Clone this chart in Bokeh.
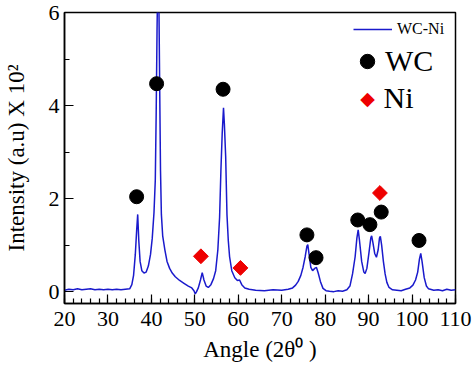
import numpy as np
from bokeh.plotting import figure
from bokeh.models import FixedTicker, Legend, LegendItem, Range1d, Label
from bokeh.embed import file_html
from bokeh.resources import INLINE

# XRD trace (angle in 2theta, intensity x 10^2)
angle = [20, 21, 22, 23, 24, 25, 26, 27, 28, 29, 30, 31, 32, 33, 34, 35.0, 35.5, 35.9, 36.3, 36.6, 36.85,
         37.1, 37.4, 37.8, 38.3, 38.8, 39.3, 39.8, 40.2, 40.6, 40.9, 41.1, 41.3, 41.5, 41.7, 41.9,
         42.1, 42.3, 42.6, 43.1, 43.6, 44.2, 44.8, 45.5, 46.5, 47.5, 48.5, 49.3, 49.8, 50.1, 50.4,
         50.8, 51.3, 51.7, 52.1, 52.6, 53.1, 53.7, 54.3, 54.8, 55.3, 55.7, 56.0, 56.3, 56.6, 56.8,
         57.1, 57.4, 57.7, 58.0, 58.5, 59.2, 59.8, 60.3, 60.8, 61.5, 62.5, 64, 66, 68, 70, 71.5,
         72.5, 73.2, 73.8, 74.4, 74.9, 75.4, 75.8, 76.0, 76.3, 76.7, 77.1, 77.6, 78.0, 78.4, 78.9,
         79.5, 80.2, 81, 82, 83, 84, 85, 85.7, 86.3, 86.9, 87.3, 87.6, 87.9, 88.4, 88.9, 89.2, 89.6,
         90.1, 90.5, 90.7, 91.0, 91.4, 91.8, 92.2, 92.5, 92.7, 93.0, 93.4, 93.8, 94.2, 94.7, 95.5,
         96.5, 97.5, 98.5, 99.5, 100.2, 100.8, 101.3, 101.7, 102.0, 102.3, 102.8, 103.3, 103.8,
         105, 106, 107, 108, 109, 110]
intensity = [0.03, 0.05, 0.04, 0.06, 0.04, 0.05, 0.06, 0.04, 0.05, 0.04, 0.05, 0.04, 0.05, 0.04, 0.05, 0.06, 0.15, 0.35, 0.80, 1.30, 1.66,
             1.10, 0.65, 0.45, 0.40, 0.42, 0.55, 0.80, 1.15, 1.70, 2.40, 3.80, 5.60, 7.00, 6.50, 4.50,
             2.60, 1.66, 1.20, 0.90, 0.65, 0.50, 0.40, 0.32, 0.24, 0.18, 0.12, 0.08, 0.02, -0.05, 0.00,
             0.08, 0.25, 0.41, 0.25, 0.12, 0.09, 0.15, 0.28, 0.45, 0.90, 1.60, 2.60, 3.40, 3.95, 3.60,
             2.90, 1.65, 1.10, 0.75, 0.45, 0.30, 0.24, 0.25, 0.15, 0.08, 0.05, 0.03, 0.02, 0.04, 0.03, 0.05,
             0.08, 0.14, 0.22, 0.35, 0.52, 0.75, 0.98, 1.01, 0.80, 0.52, 0.45, 0.50, 0.52, 0.40, 0.22,
             0.07, 0.02, 0.01, 0.00, 0.02, 0.01, 0.04, 0.12, 0.38, 0.75, 1.15, 1.33, 1.10, 0.65, 0.42, 0.39, 0.50,
             0.85, 1.15, 1.20, 1.05, 0.82, 0.74, 0.90, 1.15, 1.19, 1.00, 0.65, 0.38, 0.20, 0.09, 0.04,
             0.03, 0.02, 0.05, 0.08, 0.14, 0.25, 0.42, 0.70, 0.82, 0.65, 0.30, 0.12, 0.06,
             0.03, 0.04, 0.02, 0.05, 0.03, 0.04]

wc_x = [36.6, 41.2, 56.5, 75.8, 77.9, 87.5, 90.3, 92.9, 101.6]
wc_y = [2.04, 4.47, 4.35, 1.22, 0.73, 1.54, 1.44, 1.71, 1.10]
ni_x = [51.4, 60.5, 92.6]
ni_y = [0.76, 0.51, 2.12]

x_ticks = [20, 30, 40, 50, 60, 70, 80, 90, 100, 110]
x_minor = [v for v in range(20, 111, 2)]
y_ticks = [0, 2, 4, 6]
y_minor = [1, 3, 5]

FONT = "Liberation Serif"
BLUE = "#1a1acc"
RED = "#ee0000"

p = figure(width=474, height=368, output_backend="svg", toolbar_location=None,
           x_range=Range1d(20, 110), y_range=Range1d(-0.255, 6),
           min_border_left=62, min_border_right=19, min_border_top=12, min_border_bottom=65)
p.grid.visible = False
p.outline_line_color = "black"
p.outline_line_width = 1.5
p.background_fill_color = "white"
p.border_fill_color = "white"

line = p.line(angle, intensity, line_color=BLUE, line_width=1.5)
wc = p.scatter(wc_x, wc_y, marker="circle", size=14, fill_color="black", line_color="black")
ni = p.scatter(ni_x, ni_y, marker="square", angle=np.pi / 4, size=10.5,
               fill_color=RED, line_color=RED)

for ax in (p.xaxis[0], p.yaxis[0]):
    ax.axis_line_width = 1.5
    ax.major_tick_in = 9
    ax.major_tick_out = 0
    ax.minor_tick_in = 5
    ax.minor_tick_out = 0
    ax.major_tick_line_width = 1.2
    ax.minor_tick_line_width = 1.2
    ax.major_label_text_font = FONT
    ax.major_label_text_font_size = "22px"
    ax.major_label_text_color = "black"
    ax.axis_label_text_font = FONT
    ax.axis_label_text_font_size = "23px"
    ax.axis_label_text_font_style = "normal"
    ax.axis_label_text_color = "black"

p.xaxis[0].ticker = FixedTicker(ticks=x_ticks, minor_ticks=x_minor)
p.yaxis[0].ticker = FixedTicker(ticks=y_ticks, minor_ticks=y_minor)
p.xaxis[0].axis_label = "Angle (2θ\u2070 )"
p.yaxis[0].axis_label = "Intensity (a.u) X 10\u00b2"
p.xaxis[0].major_label_standoff = 8
p.xaxis[0].axis_label_standoff = 8
p.yaxis[0].major_label_standoff = 5
p.yaxis[0].axis_label_standoff = 17

def make_legend(items, loc, fs, gw, gh, standoff):
    lg = Legend(items=items, location=loc, label_text_font=FONT, label_text_font_size=fs,
                glyph_width=gw, glyph_height=gh, label_height=gh, label_standoff=standoff,
                padding=0, margin=0, spacing=0, border_line_color=None,
                background_fill_alpha=0, label_text_color="black")
    p.add_layout(lg)

make_legend([LegendItem(label="WC-Ni", renderers=[line])], (289, 264), "16px", 39, 20, 5)
make_legend([LegendItem(label="WC", renderers=[wc])], (285, 224), "30px", 36, 36, -1)

# Ni legend entry (rotated-square symbol + label)
p.add_layout(Label(x=303, y=206, x_units="screen", y_units="screen", text="\u25c6",
                   text_font="DejaVu Sans", text_font_size="19px", text_color=RED,
                   text_align="center", text_baseline="middle"))
p.add_layout(Label(x=319, y=206, x_units="screen", y_units="screen", text="Ni",
                   text_font=FONT, text_font_size="30px", text_color="black",
                   text_align="left", text_baseline="middle"))

open("out.html", "w").write(file_html(p, INLINE))
